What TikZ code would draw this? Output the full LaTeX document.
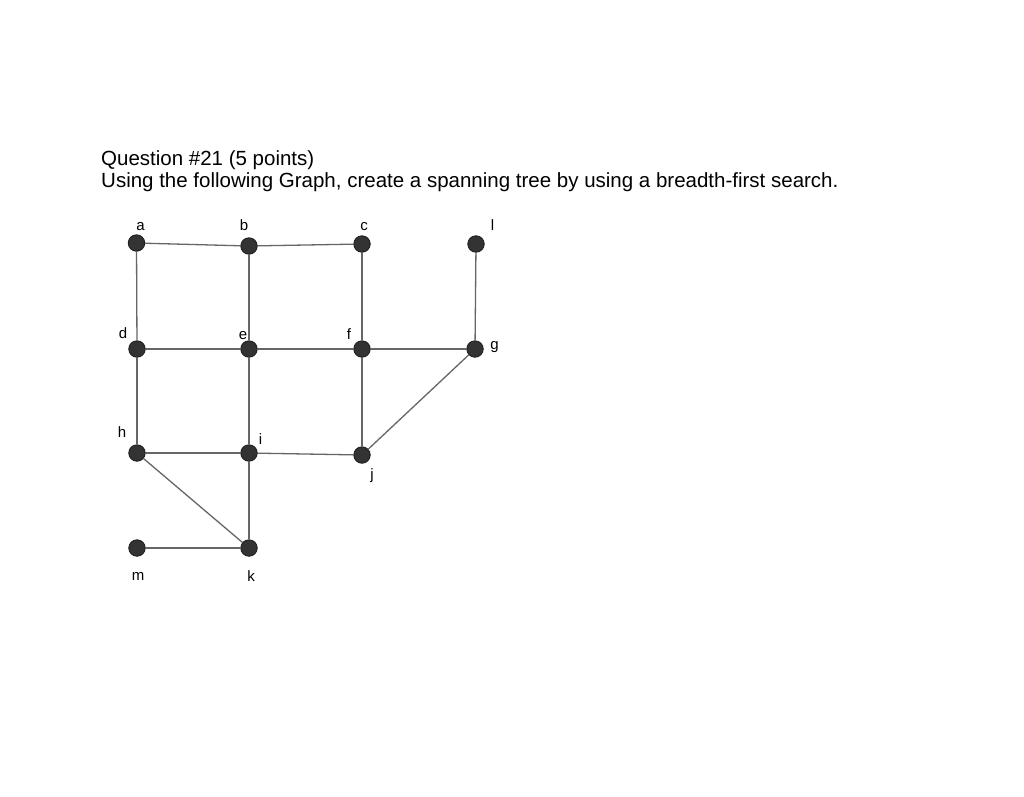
\documentclass[tikz,border=0pt]{standalone}
\usepackage{fontspec}
\setmainfont{Liberation Sans}
\begin{document}
\begin{tikzpicture}[x=1pt,y=-1pt,
  vtx/.style={circle,fill=dotfill,draw=black!90,line width=0.8pt,minimum size=16.5pt,inner sep=0pt},
  edge/.style={draw=edgecol,line width=1.3pt},
  lbl/.style={anchor=base,inner sep=0pt,font=\fontsize{15}{17}\selectfont},
  ttl/.style={anchor=base west,inner sep=0pt,font=\fontsize{20.5}{22}\selectfont}]
\definecolor{dotfill}{HTML}{333333}
\definecolor{edgecol}{HTML}{666666}
\useasboundingbox[fill=white] (0,0) rectangle (1024,796);
\node[ttl] (t1) at (101,165.7) {Question \#21 (5 points)};
\node[ttl] (t2) at (101,187.7) {Using the following Graph, create a spanning tree by using a breadth-first search.};
% vertices
\node[vtx] (a) at (136.5,243) {};
\node[vtx] (b) at (249,246) {};
\node[vtx] (c) at (362,244) {};
\node[vtx] (l) at (476,244) {};
\node[vtx] (d) at (137,349) {};
\node[vtx] (e) at (249,349) {};
\node[vtx] (f) at (362,349) {};
\node[vtx] (g) at (475,349) {};
\node[vtx] (h) at (137,453) {};
\node[vtx] (i) at (249,453) {};
\node[vtx] (j) at (362,455) {};
\node[vtx] (m) at (137,548) {};
\node[vtx] (k) at (249,548) {};
% edges
\foreach \u/\v in {a/b,b/c,a/d,b/e,c/f,l/g,d/e,e/f,f/g,d/h,e/i,f/j,g/j,h/i,i/j,h/k,i/k,m/k}
  \draw[edge] (\u) -- (\v);
% labels
\node[lbl] (la) at (140.5,230) {a};
\node[lbl] (lb) at (244,230) {b};
\node[lbl] (lc) at (364,230) {c};
\node[lbl] (ll) at (492.5,230) {l};
\node[lbl] (ld) at (123,338) {d};
\node[lbl] (le) at (243,339) {e};
\node[lbl] (lf) at (349,339) {f};
\node[lbl] (lg) at (494.5,349) {g};
\node[lbl] (lh) at (122,437) {h};
\node[lbl] (li) at (260.5,444) {i};
\node[lbl] (lj) at (372,479) {j};
\node[lbl] (lm) at (138,580) {m};
\node[lbl] (lk) at (251,581) {k};
\end{tikzpicture}
\end{document}
